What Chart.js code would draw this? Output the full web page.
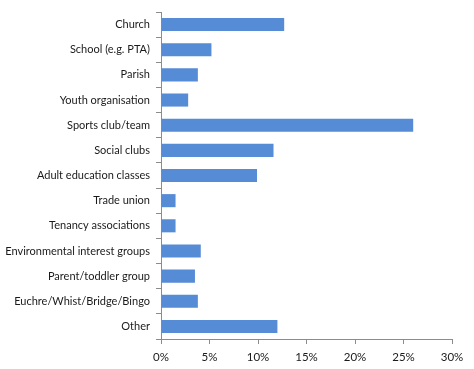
<!DOCTYPE html>
<html lang="en">
<head>
  <meta charset="UTF-8" />
  <title>Membership by group</title>
  <script src="https://cdn.jsdelivr.net/npm/chart.js"></script>
  <style>
    body { margin: 0; background: #fff; }
    .wrap { width: 474px; height: 369px; }
  </style>
</head>
<body>
  <div class="wrap"><canvas id="chart"></canvas></div>
  <script>
    const categories = [
      "Church", "School (e.g. PTA)", "Parish", "Youth organisation",
      "Sports club/team", "Social clubs", "Adult education classes",
      "Trade union", "Tenancy associations", "Environmental interest groups",
      "Parent/toddler group", "Euchre/Whist/Bridge/Bingo", "Other"
    ];
    const shares = [12.7, 5.2, 3.8, 2.8, 26.0, 11.6, 9.9, 1.5, 1.5, 4.1, 3.5, 3.8, 12.0];
    const tickValues = [0, 5, 10, 15, 20, 25, 30];

    const axisColor = "#8c8c8c";
    const font = { family: "Lato, 'Open Sans', sans-serif", size: 11 };

    new Chart(document.getElementById("chart"), {
      type: "bar",
      data: {
        labels: categories,
        datasets: [{
          data: shares,
          backgroundColor: "#568bd5",
          borderWidth: 0,
          barPercentage: 0.52,
          categoryPercentage: 1
        }]
      },
      options: {
        indexAxis: "y",
        responsive: true,
        maintainAspectRatio: false,
        animation: false,
        layout: { padding: { top: 12, right: 22, left: 0, bottom: 0 } },
        plugins: { legend: { display: false }, tooltip: { enabled: false } },
        scales: {
          x: {
            min: tickValues[0],
            max: tickValues[tickValues.length - 1],
            afterBuildTicks: s => { s.ticks = tickValues.map(v => ({ value: v })); },
            ticks: { color: "#1a1a1a", font: { ...font, size: 11.5 }, callback: v => v + "%", padding: 6 },
            grid: { drawOnChartArea: false, color: axisColor, tickLength: 5 },
            border: { color: axisColor },
            afterFit: s => { s.height = 30; }
          },
          y: {
            ticks: { color: "#1a1a1a", font, padding: 6 },
            grid: { drawOnChartArea: false, offset: true, color: axisColor, tickLength: 5 },
            border: { color: axisColor },
            afterFit: s => { s.width = 161; s.paddingTop = 0; s.paddingBottom = 0; }
          }
        }
      }
    });
  </script>
</body>
</html>
